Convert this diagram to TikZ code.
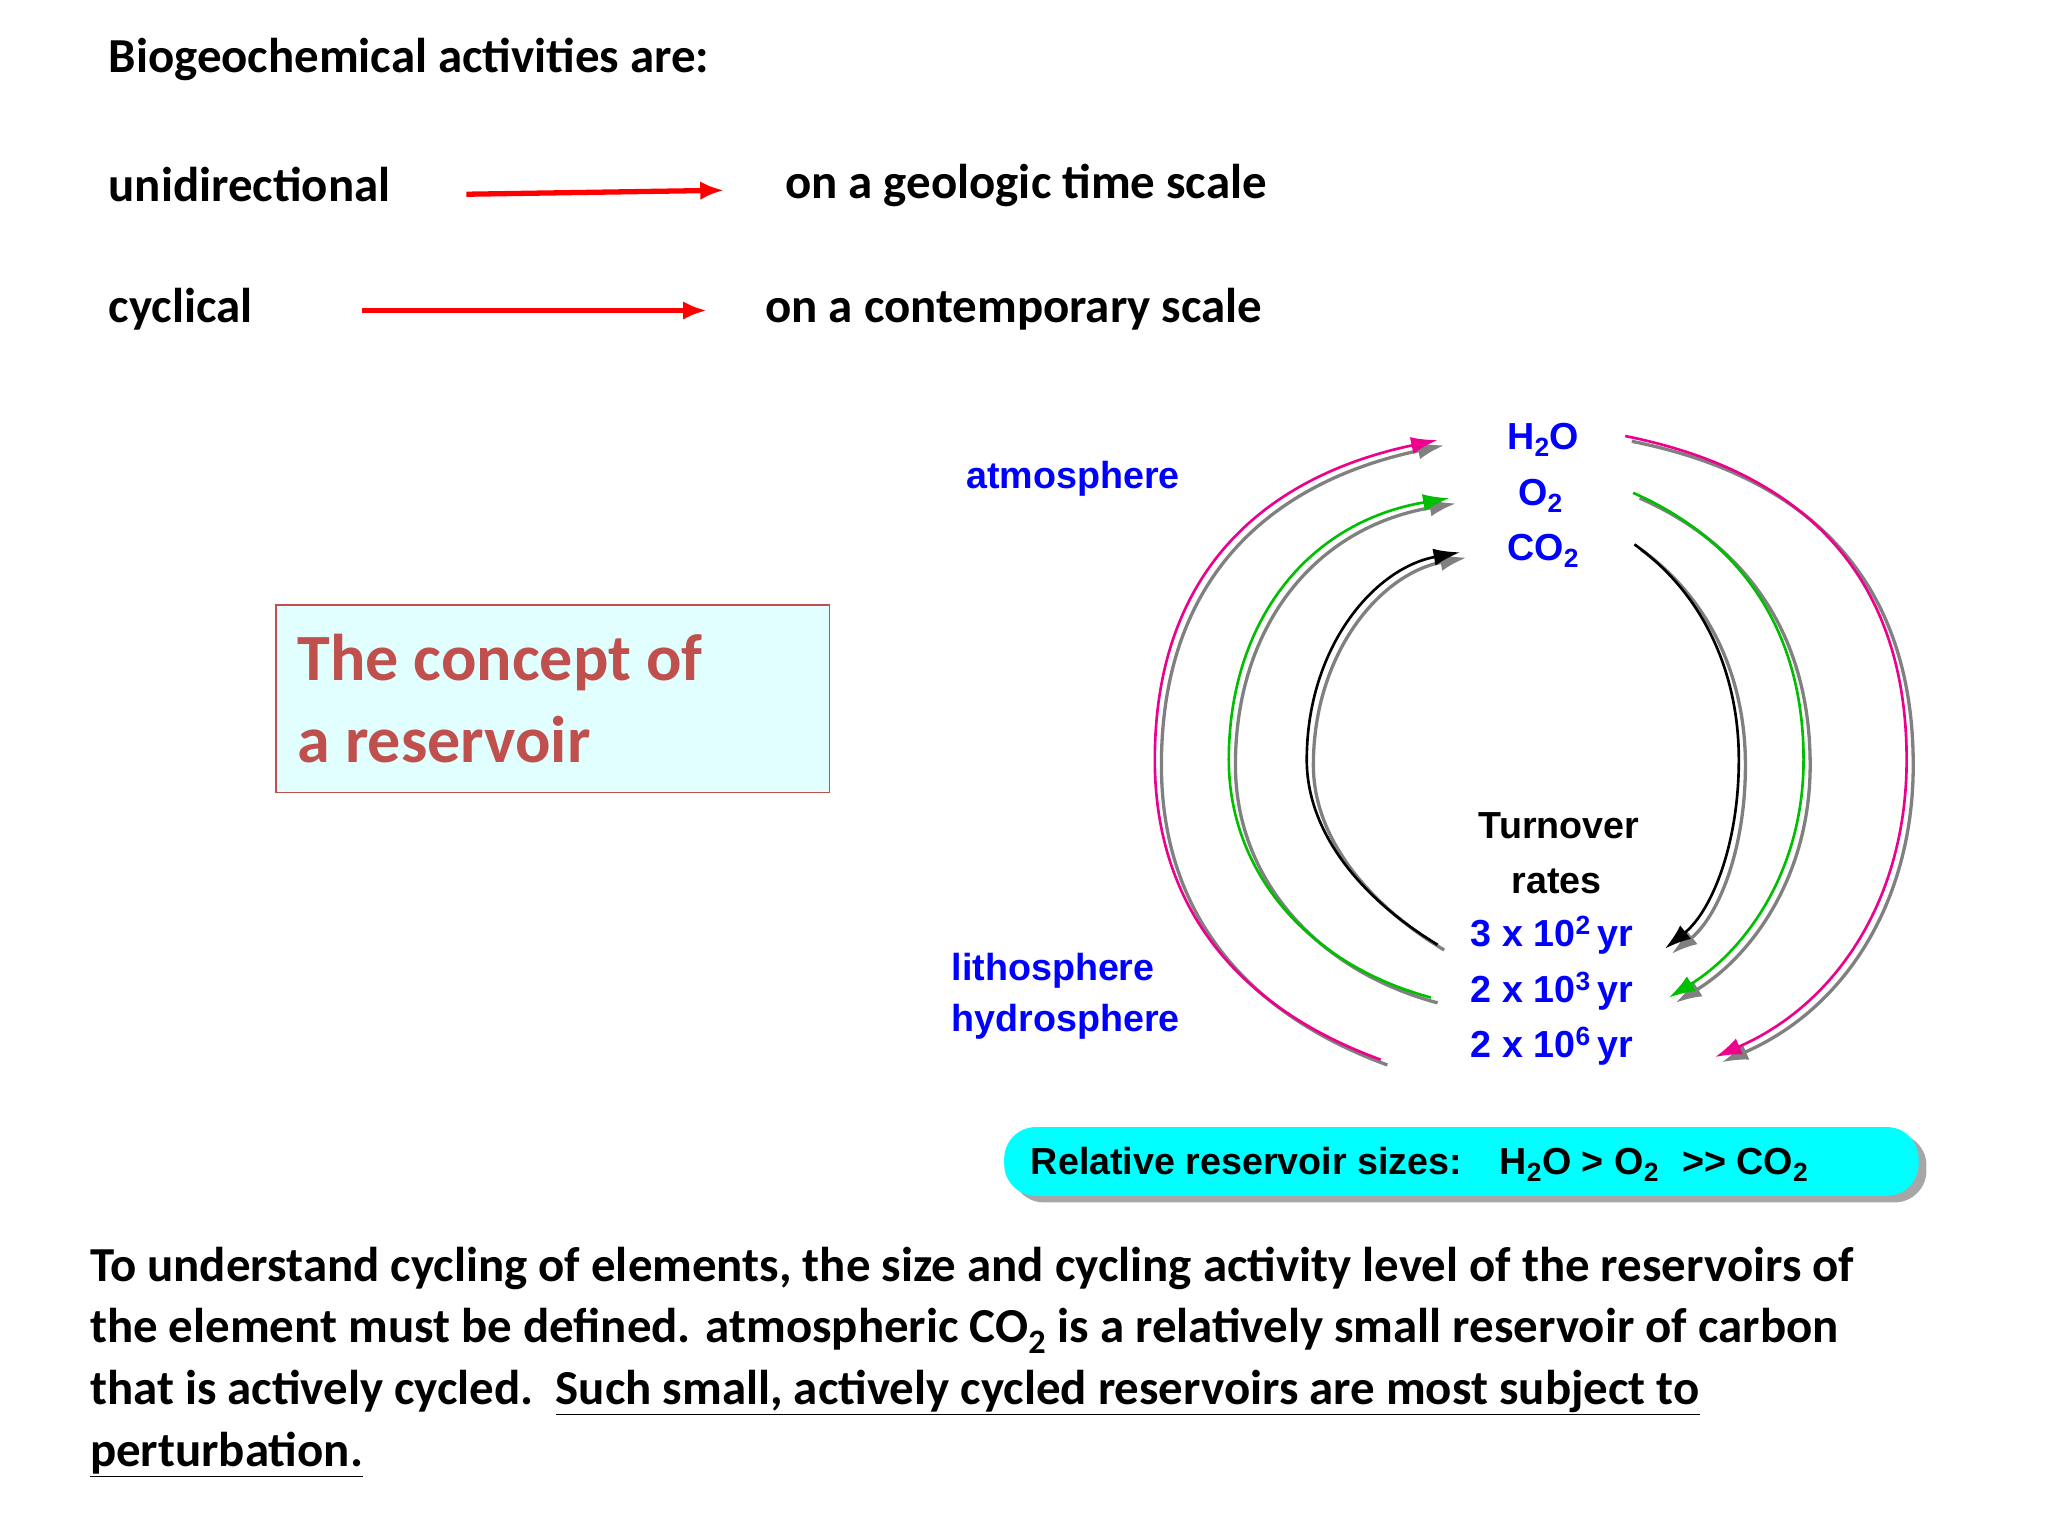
\documentclass[tikz,border=0pt]{standalone}
\usepackage{fontspec}
\setmainfont{Carlito}
\newfontfamily\arialf{Liberation Sans}
\usetikzlibrary{arrows.meta}
\definecolor{cyanrgb}{RGB}{0,255,255}
\definecolor{boxfill}{RGB}{226,255,255}
\definecolor{boxred}{RGB}{192,80,77}
\begin{document}
\begin{tikzpicture}[x=1pt,y=-1pt,
  big/.style={font=\fontsize{37}{44}\selectfont\bfseries,anchor=west,inner sep=0},
  lab/.style={font=\arialf\fontsize{28.5}{34}\selectfont\bfseries,text=blue,inner sep=0},
  redarr/.style={red,line width=4pt,-{Latex[length=18pt,width=14pt]}},
  arc/.style={line width=2pt},
  tip/.style={-{Latex[length=20pt,width=13pt]}},
  sh/.style={gray,line width=2.5pt}]
\useasboundingbox (0,0) rectangle (1550,1162);
\node[big] (t0) at (82,45) {Biogeochemical activities are:};
\node[big] (u) at (82,140) {unidirectional};
\node[big] (ug) at (594,140) {on a geologic time scale};
\node[big] (c) at (82,234) {cyclical};
\node[big] (cc) at (579,234) {on a contemporary scale};
\coordinate (ua) at (353,147); \coordinate (ub) at (548,144);
\coordinate (ca) at (274,235); \coordinate (cb) at (535,235);
\draw[redarr] (ua) -- (ub);
\draw[redarr] (ca) -- (cb);
% box
\draw[draw=boxred,fill=boxfill,line width=1pt] (209,458) rectangle (628,600);
\node[big,font=\fontsize{50}{60}\selectfont\bfseries,text=boxred,align=left] (box) at (225,529) {The concept of\\[2pt]a reservoir};
% labels
\node[lab] (atm) at (812,362) {atmosphere};
\node[lab,anchor=west,align=left] (lith) at (720,754) {lithosphere\\[4pt]hydrosphere};
\node[lab] (h2o) at (1168,333) {H\textsubscript{2}O};
\node[lab] (o2) at (1166,375) {O\textsubscript{2}};
\node[lab] (co2) at (1168,417) {CO\textsubscript{2}};
\node[lab,text=black] (tr) at (1180,625) {Turnover};
\node[lab,text=black] (tr2) at (1178,667) {rates};
\node[lab,anchor=west] (r1) at (1113,708) {3 x 10\textsuperscript{2}\,yr};
\node[lab,anchor=west] (r2) at (1113,750) {2 x 10\textsuperscript{3}\,yr};
\node[lab,anchor=west] (r3) at (1113,792) {2 x 10\textsuperscript{6}\,yr};
% arcs: shadows
\begin{scope}[shift={(5,4)}]
\draw[sh,tip] (1045,802) .. controls (930,760) and (874,680) .. (874,575) .. controls (874,430) and (960,360) .. (1088,333);
\draw[sh,tip] (1230,330) .. controls (1380,360) and (1443,450) .. (1443,575) .. controls (1443,680) and (1390,760) .. (1298,800);
\draw[sh,tip] (1083,755) .. controls (990,730) and (930,660) .. (930,575) .. controls (930,470) and (990,395) .. (1097,377);
\draw[sh,tip] (1236,373) .. controls (1320,410) and (1365,480) .. (1365,575) .. controls (1365,660) and (1320,720) .. (1263,755);
\draw[sh,tip] (1088,715) .. controls (1030,680) and (989,630) .. (989,575) .. controls (989,490) and (1040,430) .. (1105,418);
\draw[sh,tip] (1237,412) .. controls (1290,450) and (1316,510) .. (1316,575) .. controls (1316,640) and (1295,690) .. (1260,718);
\end{scope}
\draw[arc,magenta,tip] (1045,802) .. controls (930,760) and (874,680) .. (874,575) .. controls (874,430) and (960,360) .. (1088,333);
\draw[arc,magenta,tip] (1230,330) .. controls (1380,360) and (1443,450) .. (1443,575) .. controls (1443,680) and (1390,760) .. (1298,800);
\draw[arc,green!75!black,tip] (1083,755) .. controls (990,730) and (930,660) .. (930,575) .. controls (930,470) and (990,395) .. (1097,377);
\draw[arc,green!75!black,tip] (1236,373) .. controls (1320,410) and (1365,480) .. (1365,575) .. controls (1365,660) and (1320,720) .. (1263,755);
\draw[arc,black,tip] (1088,715) .. controls (1030,680) and (989,630) .. (989,575) .. controls (989,490) and (1040,430) .. (1105,418);
\draw[arc,black,tip] (1237,412) .. controls (1290,450) and (1316,510) .. (1316,575) .. controls (1316,640) and (1295,690) .. (1260,718);
% pill
\fill[gray!70,rounded corners=24pt] (766,858) rectangle (1458,910);
\fill[cyanrgb,rounded corners=24pt] (760,853) rectangle (1452,905);
\node[lab,text=black,anchor=west] (rel) at (780,881) {Relative reservoir sizes:\quad H\textsubscript{2}O > O\textsubscript{2}\,\, >> CO\textsubscript{2}};
% paragraph
\node[big] (p1) at (68,960) {To understand cycling of elements, the size and cycling activity level of the reservoirs of};
\node[big] (p2) at (68,1007) {the element must be defined. atmospheric CO\textsubscript{2} is a relatively small reservoir of carbon};
\node[big] (p3) at (68,1054) {that is actively cycled.\ \ \underline{Such small, actively cycled reservoirs are most subject to}};
\node[big] (p4) at (68,1101) {\underline{perturbation.}};
\end{tikzpicture}
\end{document}
